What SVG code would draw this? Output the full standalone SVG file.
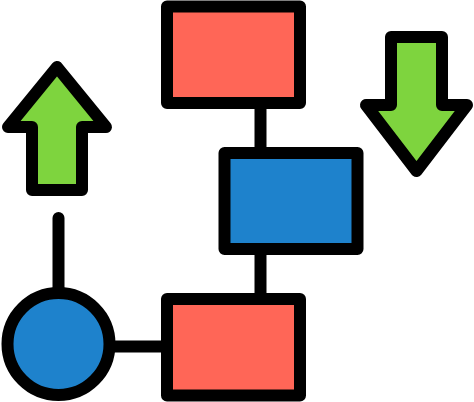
<svg xmlns="http://www.w3.org/2000/svg" width="474" height="402" viewBox="0 0 474 402">
<style>
.s{stroke:#000;stroke-width:12;stroke-linejoin:round;stroke-linecap:round}
.red{fill:#FF6657}
.blue{fill:#1E82CC}
.green{fill:#7ED43E}
.c{stroke:#000;stroke-width:12;fill:none}
</style>
<rect width="474" height="402" fill="#fff"/>
<g id="connectors">
<line class="c" x1="260.5" y1="103" x2="260.5" y2="153"/>
<line class="c" x1="260.5" y1="249" x2="260.5" y2="299"/>
<line class="c" x1="108" y1="346.5" x2="167" y2="346.5"/>
<line class="c" x1="58.5" y1="218" x2="58.5" y2="292" stroke-linecap="round"/>
</g>
<g id="top-box"><rect class="s red" x="167" y="6.5" width="133" height="96.5"/></g>
<g id="middle-box"><rect class="s blue" x="224.5" y="153" width="133" height="96"/></g>
<g id="bottom-box"><rect class="s red" x="167" y="299" width="133" height="96.5"/></g>
<g id="circle"><circle class="s blue" cx="58.5" cy="344" r="51"/></g>
<g id="up-arrow"><path class="s green" d="M32,190 L32,127 L8,127 L57,67 L106,127 L82,127 L82,190 Z"/></g>
<g id="down-arrow"><path class="s green" d="M391,37 L442,37 L442,105 L467,105 L416.5,171 L366,105 L391,105 Z"/></g>
</svg>
